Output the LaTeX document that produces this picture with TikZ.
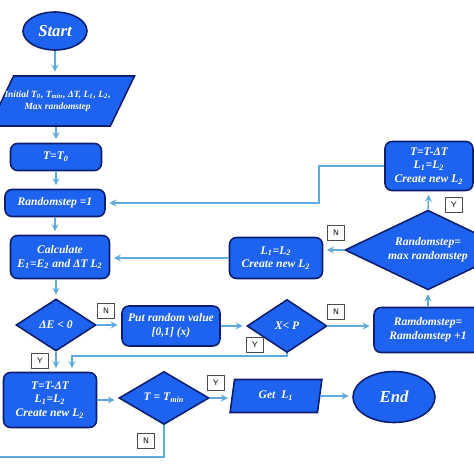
\documentclass[tikz,border=0pt]{standalone}
\usepackage{fontspec}
\setmainfont{Liberation Serif}
\usetikzlibrary{shapes.geometric}
\definecolor{flowblue}{RGB}{30,98,240}
\definecolor{flowedge}{RGB}{12,30,110}
\definecolor{lineblue}{RGB}{95,170,220}
\begin{document}
\begin{tikzpicture}[x=0.02cm, y=-0.02cm,
    every node/.style={text=white, font=\fontsize{6.6}{7.8}\selectfont\bfseries\itshape, align=center, inner sep=1pt},
    shp/.style={draw=flowedge, fill=flowblue, line width=0.9pt},
    procbox/.style={shp, rounded corners=4pt},
    decision/.style={shp, diamond, aspect=1.6},
    ioput/.style={shp, trapezium, trapezium stretches=true, trapezium left angle=76, trapezium right angle=104},
    term/.style={shp, ellipse, font=\fontsize{9.5}{11}\selectfont\bfseries\itshape},
    yn/.style={draw=black!70, fill=white, text=black, font=\sffamily\fontsize{4.5}{5}\selectfont, minimum width=0.34cm, minimum height=0.3cm, inner sep=0pt},
    arr/.style={->, >=stealth, draw=lineblue, line width=0.8pt, shorten >=2pt}]
  \clip (0,0) rectangle (474,474);
  \fill[white] (0,0) rectangle (474,474);
  % shapes
  \node[term, minimum width=1.28cm, minimum height=0.76cm] (start) at (55,31) {Start};
  \node[ioput, minimum width=2.9cm, minimum height=1cm,
    label={[xshift=-2.5pt, font=\fontsize{5.4}{7}\selectfont\bfseries\itshape]center:{Initial T\textsubscript{0}, T\textsubscript{min}, ΔT, L\textsubscript{1}, L\textsubscript{2},\\Max randomstep}}] (init) at (62,101) {};
  \node[procbox, minimum width=1.82cm, minimum height=0.54cm] (tzero) at (56,157) {T=T\textsubscript{0}};
  \node[procbox, minimum width=2cm, minimum height=0.54cm] (rsone) at (55,203) {Randomstep =1};
  \node[procbox, minimum width=1.98cm, minimum height=0.86cm] (calc) at (60,257) {Calculate\\E\textsubscript{1}=E\textsubscript{2} and ΔT L\textsubscript{2}};
  \node[decision, minimum width=1.6cm, minimum height=1.04cm] (dE) at (56,325) {ΔE {\normalfont\bfseries <} 0};
  \node[procbox, minimum width=1.96cm, minimum height=0.8cm] (put) at (171,326) {Put random value\\{}[0,1] (x)};
  \node[decision, minimum width=1.6cm, minimum height=1.06cm] (xp) at (287,326) {X{\normalfont\bfseries <} P};
  \node[procbox, minimum width=2.16cm, minimum height=0.9cm] (inc) at (428,330) {Ramdomstep=\\Ramdomstep +1};
  \node[decision, minimum width=3.32cm, minimum height=1.36cm] (maxrs) at (428,250) {Randomstep=\\max randomstep};
  \node[procbox, minimum width=1.86cm, minimum height=0.82cm] (newl) at (276,258) {L\textsubscript{1}=L\textsubscript{2}\\Create new L\textsubscript{2}};
  \node[procbox, minimum width=1.76cm, minimum height=0.98cm] (updtop) at (429,166) {T=T-ΔT\\L\textsubscript{1}=L\textsubscript{2}\\Create new L\textsubscript{2}};
  \node[procbox, minimum width=1.86cm, minimum height=1.1cm] (upd) at (50,400) {T=T-ΔT\\L\textsubscript{1}=L\textsubscript{2}\\Create new L\textsubscript{2}};
  \node[decision, minimum width=1.8cm, minimum height=1.06cm] (tmin) at (164,398) {T = T\textsubscript{min}};
  \node[ioput, trapezium left angle=81, trapezium right angle=99, minimum width=1.84cm, minimum height=0.66cm] (get) at (276,396) {Get\ \ L\textsubscript{1}};
  \node[term, minimum width=1.64cm, minimum height=1.02cm] (end) at (394,397) {End};
  % bends
  \coordinate (k1) at (319,203);
  \coordinate (k2) at (72,356);
  \coordinate (k3) at (-5,457);
  % connectors
  \foreach \a/\b in {start/init, tzero/rsone, rsone/calc}{
    \draw[arr] (\a.south) -- (\a.south |- \b.north);
  }
  \foreach \a/\b in {init/tzero, calc/dE}{
    \draw[arr] (\b.north |- \a.south) -- (\b.north);
  }
  \foreach \a/\b in {dE/put, put/xp, xp/inc, upd/tmin, tmin/get, get/end}{
    \draw[arr] (\a.east) -- (\a.east -| \b.west);
  }
  \draw[arr] (inc.north) -- (maxrs.south);
  \draw[arr] (maxrs.north) -- (updtop.south);
  \draw[arr] (maxrs.west) -- (maxrs.west -| newl.east);
  \draw[arr] (newl.west) -- (newl.west -| calc.east);
  \draw[arr] (updtop.west) -| (k1) -- (rsone.east);
  \draw[arr] (dE.south) -- (dE.south |- upd.north);
  \draw[arr] (xp.south) |- (k2) -- (k2 |- upd.north);
  \draw[draw=lineblue, line width=0.8pt] (tmin.south) |- (k3);
  % labels
  \foreach \n/\x/\y/\t in {lN1/106/311/N, lN2/336/312/N, lN3/336/233/N, lN4/146/441/N, lY1/40/361/Y, lY2/255/345/Y, lY3/216/383/Y, lY4/454/205/Y}{
    \node[yn] (\n) at (\x,\y) {\t};
  }
\end{tikzpicture}
\end{document}
